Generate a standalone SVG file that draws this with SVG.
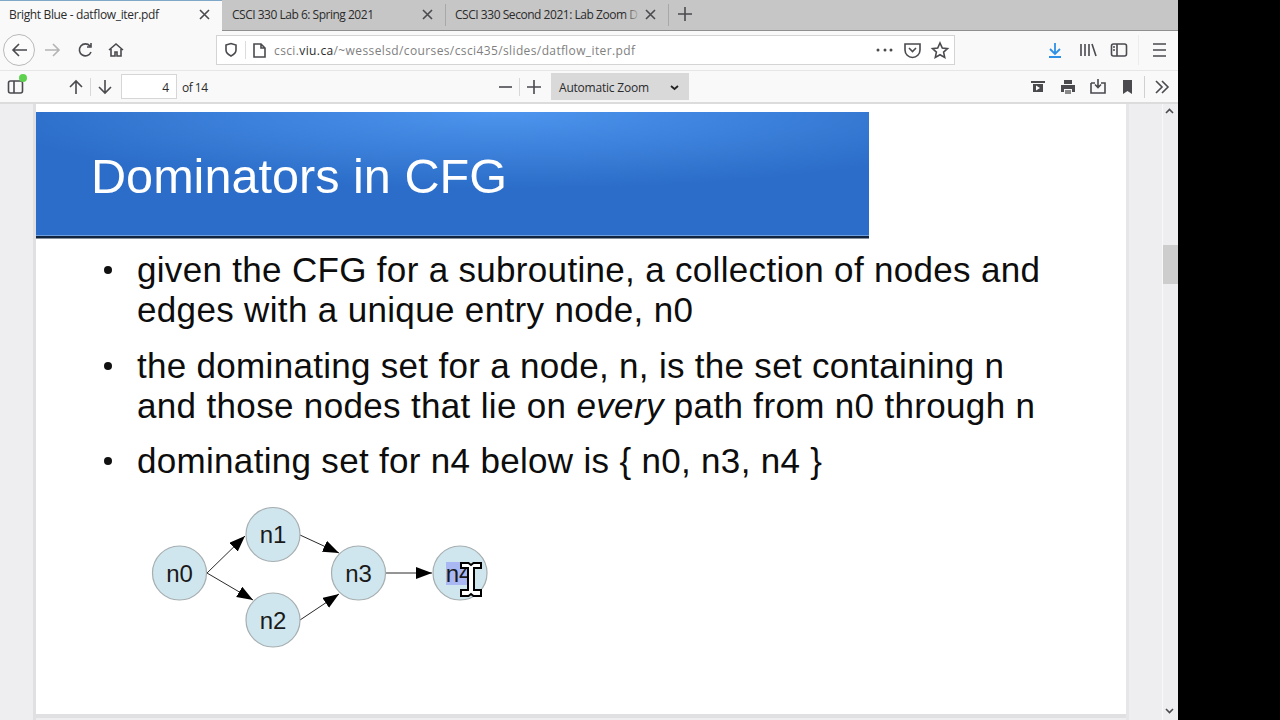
<svg xmlns="http://www.w3.org/2000/svg" width="1280" height="720" viewBox="0 0 1280 720">
<style>
.ui{font-family:"Open Sans","Noto Sans","Liberation Sans",sans-serif;font-size:12px;fill:#2b2b2b}
.slide{font-family:"Liberation Sans",Arial,sans-serif;font-size:35px;fill:#0d0d0d}
.lbl{font-family:"Liberation Sans",Arial,sans-serif;font-size:24px;fill:#1a1a1a;text-anchor:middle}
.ic{fill:none;stroke:#4a4a4f;stroke-width:1.6}
.icf{fill:#4a4a4f}
.node{fill:#d0e6ee;stroke:#a6aeb0;stroke-width:1.2}
.edge{stroke:#2a2a2a;stroke-width:1;fill:none;marker-end:url(#arr)}
</style>
<defs>
<radialGradient id="hdr2" cx="0.56" cy="0" r="0.62" gradientTransform="translate(0 0)"><stop offset="0" stop-color="#4d95ee"/><stop offset="1" stop-color="#2b6dc8"/></radialGradient>
<linearGradient id="fade" x1="0" x2="1" y1="0" y2="0"><stop offset="0" stop-color="#c6c6c6" stop-opacity="0"/><stop offset="1" stop-color="#c6c6c6"/></linearGradient>
<marker id="arr" markerUnits="userSpaceOnUse" markerWidth="18" markerHeight="14" refX="16" refY="6" orient="auto"><path d="M0 0L16 6L0 12Z" fill="#000"/></marker>
</defs>
<rect width="1280" height="720" fill="#000"/>
<g id="chrome">
<rect x="0" y="0" width="1178" height="720" fill="#f0f0f2"/>
<rect x="0" y="0" width="1178" height="30" fill="#c6c6c6"/>
<rect x="0" y="30" width="1178" height="1" fill="#8f8f8f"/>
<rect x="0" y="0" width="222" height="31" fill="#f9f9fa"/>
<rect x="0" y="0" width="222" height="1" fill="#7fa8c8"/>
<rect x="0" y="31" width="1178" height="39" fill="#f9f9fa"/>
<rect x="0" y="70" width="1178" height="33" fill="#f9f9fa"/>
<rect x="0" y="70" width="1178" height="1" fill="#e6e6e6"/>
<rect x="0" y="102" width="1178" height="2" fill="#dcdcdc"/>
</g>
<g id="tabs">
<text class="ui" x="9" y="19" textLength="150">Bright Blue - datflow_iter.pdf</text>
<path class="ic" d="M200 10l9 9M209 10l-9 9"/>
<text class="ui" x="232" y="19" textLength="142">CSCI 330 Lab 6: Spring 2021</text>
<path class="ic" d="M423 10l9 9M432 10l-9 9"/>
<rect x="445" y="4" width="1" height="22" fill="#a8a8a8"/>
<text class="ui" x="455" y="19" textLength="183">CSCI 330 Second 2021: Lab Zoom D</text>
<rect x="624" y="6" width="16" height="18" fill="url(#fade)"/>
<path class="ic" d="M646 10l9 9M655 10l-9 9"/>
<rect x="668" y="4" width="1" height="22" fill="#a8a8a8"/>
<path class="ic" d="M685 7v14M678 14h14"/>
</g>
<g id="navbar">
<circle cx="19" cy="50" r="15.500" fill="#fbfbfb" stroke="#b9b9b9"/>
<path class="ic" d="M13 50h14M19 44l-6 6 6 6"/>
<path d="M45 50h14M53 44l6 6-6 6" fill="none" stroke="#b4b4b4" stroke-width="1.6"/>
<path class="ic" d="M90 46a6 6 0 1 0 1 6M91 43v4h-4"/>
<path class="ic" d="M109 50l7-6 7 6M111 49v7h4v-4h2v4h4v-7"/>
<rect x="216.500" y="35.500" width="738" height="29" fill="#fff" stroke="#d4d4d4"/>
<path class="ic" d="M226 45l5-1.500 5 1.500v5c0 3-3 5-5 6-2-1-5-3-5-6z"/>
<rect x="245" y="41" width="1" height="18" fill="#dcdcdc"/>
<path class="ic" d="M254 44h7l4 4v9h-11zM261 44v4h4"/>
<text class="ui" x="274" y="55" textLength="361" style="fill:#7f7f7f">csci.<tspan style="fill:#2b2b2b">viu.ca</tspan>/~wesselsd/courses/csci435/slides/datflow_iter.pdf</text>
<path d="M878 50h0M885 50h0M891 50h0" stroke="#4a4a4f" stroke-width="3" stroke-linecap="round"/>
<path class="ic" d="M905 44h15v6a7.500 7.500 0 0 1-15 0zM909 48l3.500 3.500 3.500-3.500"/>
<path class="ic" d="M940 43l2.300 5 5.200.6-3.900 3.500 1.100 5.300-4.700-2.700-4.700 2.700 1.100-5.300-3.900-3.500 5.200-.6z"/>
<path d="M1055 43v11M1050 49l5 5 5-5M1049 57h12" fill="none" stroke="#2e8fe6" stroke-width="1.800"/>
<path class="ic" d="M1081 44v12M1085 44v12M1089 44v12M1092 44l4 12"/>
<rect x="1111.500" y="44" width="15" height="12" rx="2" class="ic"/><path class="ic" d="M1117 44v12M1113 47h2M1113 50h2"/>
<rect x="1138" y="35" width="1" height="30" fill="#ececec"/>
<path d="M1153 44h13M1153 50h13M1153 56h13" class="ic"/>
</g>
<g id="pdfbar">
<rect x="8.500" y="81" width="14" height="12" rx="2" class="ic"/><path class="ic" d="M14 81v12"/>
<circle cx="23" cy="78" r="4" fill="#5ed24f"/>
<path class="ic" d="M76 94V81M70 87l6-6 6 6"/>
<rect x="90" y="78" width="1" height="18" fill="#d8d8d8"/>
<path class="ic" d="M105 80v13M99 87l6 6 6-6"/>
<rect x="121.500" y="74.500" width="55" height="24" fill="#fff" stroke="#d6d6d6"/>
<text class="ui" x="169" y="92" text-anchor="end">4</text>
<text class="ui" x="182" y="92" textLength="26">of 14</text>
<path class="ic" d="M499 87h13"/>
<rect x="519" y="78" width="1" height="18" fill="#d8d8d8"/>
<path class="ic" d="M534 80v14M527 87h14"/>
<rect x="551" y="73" width="138" height="27" fill="#d9d9da"/>
<text class="ui" x="559" y="92" textLength="90">Automatic Zoom</text>
<path d="M671 86l3.500 3 3.500-3" fill="none" stroke="#222" stroke-width="1.800"/>
<path class="icf" d="M1031 81h14v2h-14zM1033 84h10v8h-10z"/><path d="M1036 85.500l4 2.500-4 2.500z" fill="#fff"/>
<path class="icf" d="M1064 80h8v4h-8zM1061 85h14v7h-3v-3h-8v3h-3z"/><rect x="1065" y="90" width="6" height="4" fill="#8a8a8a"/>
<path class="ic" d="M1091 83h4M1101 83h4v10h-14v-10M1098 79v8M1095 84.500l3 3 3-3"/>
<path class="icf" d="M1123 80h9v14l-4.500-3-4.500 3z"/>
<rect x="1144" y="76" width="1" height="22" fill="#d0d0d0"/>
<path class="ic" d="M1156 81l6 6-6 6M1162 81l6 6-6 6"/>
</g>
<g id="viewer">
<rect x="0" y="104" width="1178" height="616" fill="#eeeef0"/>
<rect x="33" y="104" width="3" height="616" fill="#e0e0e2"/>
<rect x="36" y="714" width="1090" height="4" fill="#e0e0e2"/>
<rect x="36" y="104" width="1090" height="610" fill="#fff"/>
<rect x="1126" y="104" width="3" height="616" fill="#e6e6e8"/>
<rect x="1162" y="104" width="1" height="616" fill="#f8f8f8"/>
<path class="ic" d="M1166 113l3.500-3.500 3.500 3.500" stroke="#8a8a8a"/>
<path class="ic" d="M1166 709l3.500 3.500 3.500-3.500" stroke="#8a8a8a"/>
<rect x="1163" y="245" width="15" height="39" fill="#cdcdcd"/>
</g>
<g id="slide">
<rect x="36" y="112" width="833" height="124" fill="url(#hdr2)"/>
<rect x="36" y="235" width="833" height="1" fill="#6f9fdd"/>
<rect x="36" y="236" width="833" height="2.500" fill="#10243f"/>
<text x="91" y="193" textLength="416" style="font-family:'Liberation Sans',Arial,sans-serif;font-size:48.600px;fill:#fff">Dominators in CFG</text>
<circle cx="108" cy="270" r="4" fill="#111"/><circle cx="108" cy="366" r="4" fill="#111"/><circle cx="108" cy="461" r="4" fill="#111"/>
<text class="slide" x="137" y="282" textLength="903">given the CFG for a subroutine, a collection of nodes and</text>
<text class="slide" x="137" y="322" textLength="556">edges with a unique entry node, n0</text>
<text class="slide" x="137" y="378" textLength="867">the dominating set for a node, n, is the set containing n</text>
<text class="slide" x="137" y="418" textLength="898">and those nodes that lie on <tspan font-style="italic">every</tspan> path from n0 through n</text>
<text class="slide" x="137" y="473" textLength="685">dominating set for n4 below is { n0, n3, n4 }</text>
</g>
<g id="connectors">
<path class="edge" d="M207 573L245 536"/>
<path class="edge" d="M207 573L253 600"/>
<path class="edge" d="M300 535L339 553"/>
<path class="edge" d="M300 620L339 594"/>
<path class="edge" d="M386 573H432"/>
</g>
<g id="n0"><circle class="node" cx="179.500" cy="573" r="27"/><text class="lbl" x="179.500" y="581.500">n0</text></g>
<g id="n1"><circle class="node" cx="273" cy="534.500" r="27"/><text class="lbl" x="273" y="543">n1</text></g>
<g id="n2"><circle class="node" cx="273" cy="620" r="27"/><text class="lbl" x="273" y="628.500">n2</text></g>
<g id="n3"><circle class="node" cx="358.500" cy="573" r="27"/><text class="lbl" x="358.500" y="581.500">n3</text></g>
<g id="n4"><circle class="node" cx="460" cy="573" r="27"/><rect x="446" y="562" width="21" height="23" fill="#a9b8f2"/><text class="lbl" x="459" y="581.500">n4</text></g>
<g id="cursor"><path d="M461 563h7.500l2.500 2 2.500-2h7.500v5h-7v22h7v6h-7.500l-2.500-2-2.500 2h-7.500v-6h7v-22h-7z" fill="#fff" stroke="#000" stroke-width="2"/></g>
</svg>
